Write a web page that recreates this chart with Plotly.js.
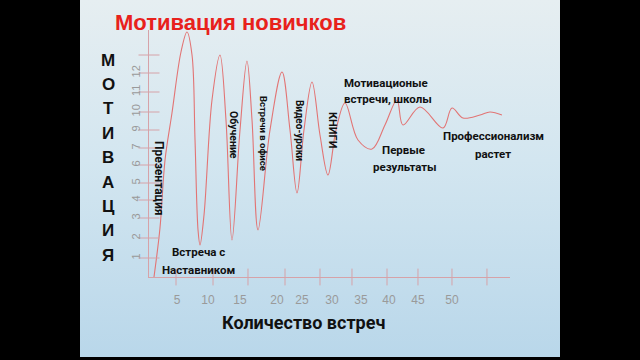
<!DOCTYPE html>
<html>
<head>
<meta charset="utf-8">
<script src="https://cdn.plot.ly/plotly-3.0.1.min.js"></script>
<style>
  html, body { margin:0; padding:0; background:#000; width:640px; height:360px; overflow:hidden; }
  #slide { position:absolute; left:80px; top:0; width:480px; height:357px;
           background: linear-gradient(to bottom, #e6eef1 0%, #d3e6f0 45%, #b9d7ea 100%); }
  #chart { position:absolute; left:0; top:0; width:640px; height:360px; }
</style>
</head>
<body>
<div id="slide"></div>
<div id="chart"></div>
<script>
// ---- data ----
const curveX = [0.83, 1.83, 2.67, 3.83, 5.33, 6.33, 7.17, 7.67, 8.17, 8.5, 9.17, 10.5, 11.83, 12.83, 13.83, 15.17, 16.33, 17.17, 18.17, 20.17, 22.17, 23.5, 24.67, 25.83, 27.17, 28.5, 29.83, 31.17, 32.67, 34.83, 37.17, 39.33, 41.33, 42.33, 45.17, 49.0, 50.5, 52.33, 55.17, 56.83, 58.83];
const curveY = [0, 2.45, 5.85, 8.2, 11.25, 12.25, 11.1, 6.85, 2.35, 1.6, 3.1, 8.85, 11.1, 7.85, 1.85, 7.35, 10.8, 7.85, 2.35, 7.35, 10.25, 7.35, 4.2, 7.35, 9.75, 7.1, 5.1, 7.35, 8.7, 6.85, 6.4, 7.6, 8.85, 7.6, 8.5, 7.45, 8.45, 7.95, 8.1, 8.25, 8.1];

const xTickMarks = [4.5, 10.67, 16.5, 22.67, 28.5, 33.83, 39.67, 44.83, 50.5, 56.33];
const xLabelPos  = [4.67, 9.83, 15.17, 21.33, 25.5, 30.5, 35.33, 40, 44.83, 50.5];
const xLabelText = ['5','10','15','20','25','30','35','40','45','50'];

const yTickMarks = [11.1, 10.2, 9.25, 8.25, 7.35, 6.45, 5.6, 4.7, 3.85, 2.95, 1.95, 0.95];
const yLabelPos  = [10.2, 9.25, 8.25, 7.35, 6.45, 5.6, 4.7, 3.85, 2.95, 1.95, 0.95];
const yLabelText = ['12','11','10','9','7','6','5','4','3','2','1'];

const titleText = 'Мотивация новичков';
const xTitleText = 'Количество встреч';
const yTitleLetters = 'МОТИВАЦИЯ';

const vertLabels = ['Презентация', 'Обучение', 'Встречи в офисе', 'Видео-уроки', 'КНИГИ'];
const flatLabels = ['Встреча с', 'Наставником', 'Мотивационые', 'встречи, школы', 'Первые', 'результаты', 'Профессионализм', 'растет'];

// ---- layout placement (positions in axis units) ----
const X_MAX = 60.17, Y_MAX = 12.35;
const vertPos = [[1.67, 4.95], [14.17, 7.1], [19.17, 7.2], [25.17, 7.35], [30.67, 7.35]];
const vertSize = [12, 10.5, 9.5, 10, 11];
const flatPos = [[8.17, 1.25], [8.17, 0.35], [39.5, 9.7], [39.83, 8.9], [42.5, 6.35], [42.67, 5.5], [57.5, 7.05], [57.33, 6.15]];

const axisColor = '#d6a2a8';
const fontFam = 'Roboto, Noto Sans, sans-serif';
const lblFont = {family: fontFam, size: 11.5, color: '#111'};

const traces = [
  {x: curveX, y: curveY, mode: 'lines', line: {color: '#e27474', width: 1.1, shape: 'spline', smoothing: 1}, hoverinfo: 'skip', showlegend: false},
  {x: xTickMarks, y: xTickMarks.map(() => 0), mode: 'markers', cliponaxis: false,
   marker: {symbol: 'line-ns-open', size: 12, color: axisColor, line: {color: axisColor, width: 1}}, hoverinfo: 'skip', showlegend: false},
  {x: yTickMarks.map(() => 0), y: yTickMarks, mode: 'markers', cliponaxis: false,
   marker: {symbol: 'line-ew-open', size: 15, color: axisColor, line: {color: axisColor, width: 1}}, hoverinfo: 'skip', showlegend: false}
];

const centered = {xanchor: 'center', yanchor: 'middle', showarrow: false};
const annotations = [];
vertLabels.forEach((t, i) => annotations.push(Object.assign({
  x: vertPos[i][0], y: vertPos[i][1], xref: 'x', yref: 'y', text: '<b>' + t + '</b>',
  textangle: 90, font: {family: fontFam, size: vertSize[i], color: '#111'}
}, centered)));
flatLabels.forEach((t, i) => annotations.push(Object.assign({
  x: flatPos[i][0] / X_MAX, y: flatPos[i][1] / Y_MAX, xref: 'paper', yref: 'paper', text: '<b>' + t + '</b>',
  font: lblFont
}, centered)));
[...yTitleLetters].forEach((ch, i) => annotations.push(Object.assign({
  x: -6.83 / X_MAX, y: (10.85 - i * 1.22) / Y_MAX, xref: 'paper', yref: 'paper', text: '<b>' + ch + '</b>',
  font: {family: 'Liberation Sans, Arial, sans-serif', size: 17, color: '#111'}
}, centered)));
annotations.push(Object.assign({
  x: 25.67 / X_MAX, y: -2.25 / Y_MAX, xref: 'paper', yref: 'paper', text: '<b>' + xTitleText + '</b>',
  font: {family: fontFam, size: 18, color: '#111'}
}, centered));

const layout = {
  width: 640, height: 360,
  margin: {l: 149, r: 130, t: 30, b: 83},
  paper_bgcolor: 'rgba(0,0,0,0)', plot_bgcolor: 'rgba(0,0,0,0)',
  showlegend: false,
  title: {text: '<b>' + titleText + '</b>', x: 115/640, xanchor: 'left', xref: 'container',
          y: 1 - 22/360, yanchor: 'middle', yref: 'container',
          font: {family: 'Liberation Sans, Arial, sans-serif', size: 22, color: '#e8211c'}},
  xaxis: {range: [0, X_MAX], showgrid: false, zeroline: false, showline: true, linecolor: axisColor, linewidth: 1,
          tickmode: 'array', tickvals: xLabelPos, ticktext: xLabelText, ticks: 'outside', ticklen: 12,
          tickcolor: 'rgba(0,0,0,0)', tickfont: {family: 'Liberation Sans, Arial, sans-serif', size: 12, color: '#9a9a9a'},
          fixedrange: true},
  yaxis: {range: [0, Y_MAX], showgrid: false, zeroline: false, showline: true, linecolor: axisColor, linewidth: 1,
          tickmode: 'array', tickvals: yLabelPos, ticktext: yLabelText, tickangle: -90, ticks: 'outside', ticklen: 4,
          tickcolor: 'rgba(0,0,0,0)', tickfont: {family: 'Liberation Sans, Arial, sans-serif', size: 11, color: '#9a9a9a'},
          fixedrange: true},
  annotations: annotations
};

Plotly.newPlot('chart', traces, layout, {displayModeBar: false, staticPlot: true});
</script>
</body>
</html>
